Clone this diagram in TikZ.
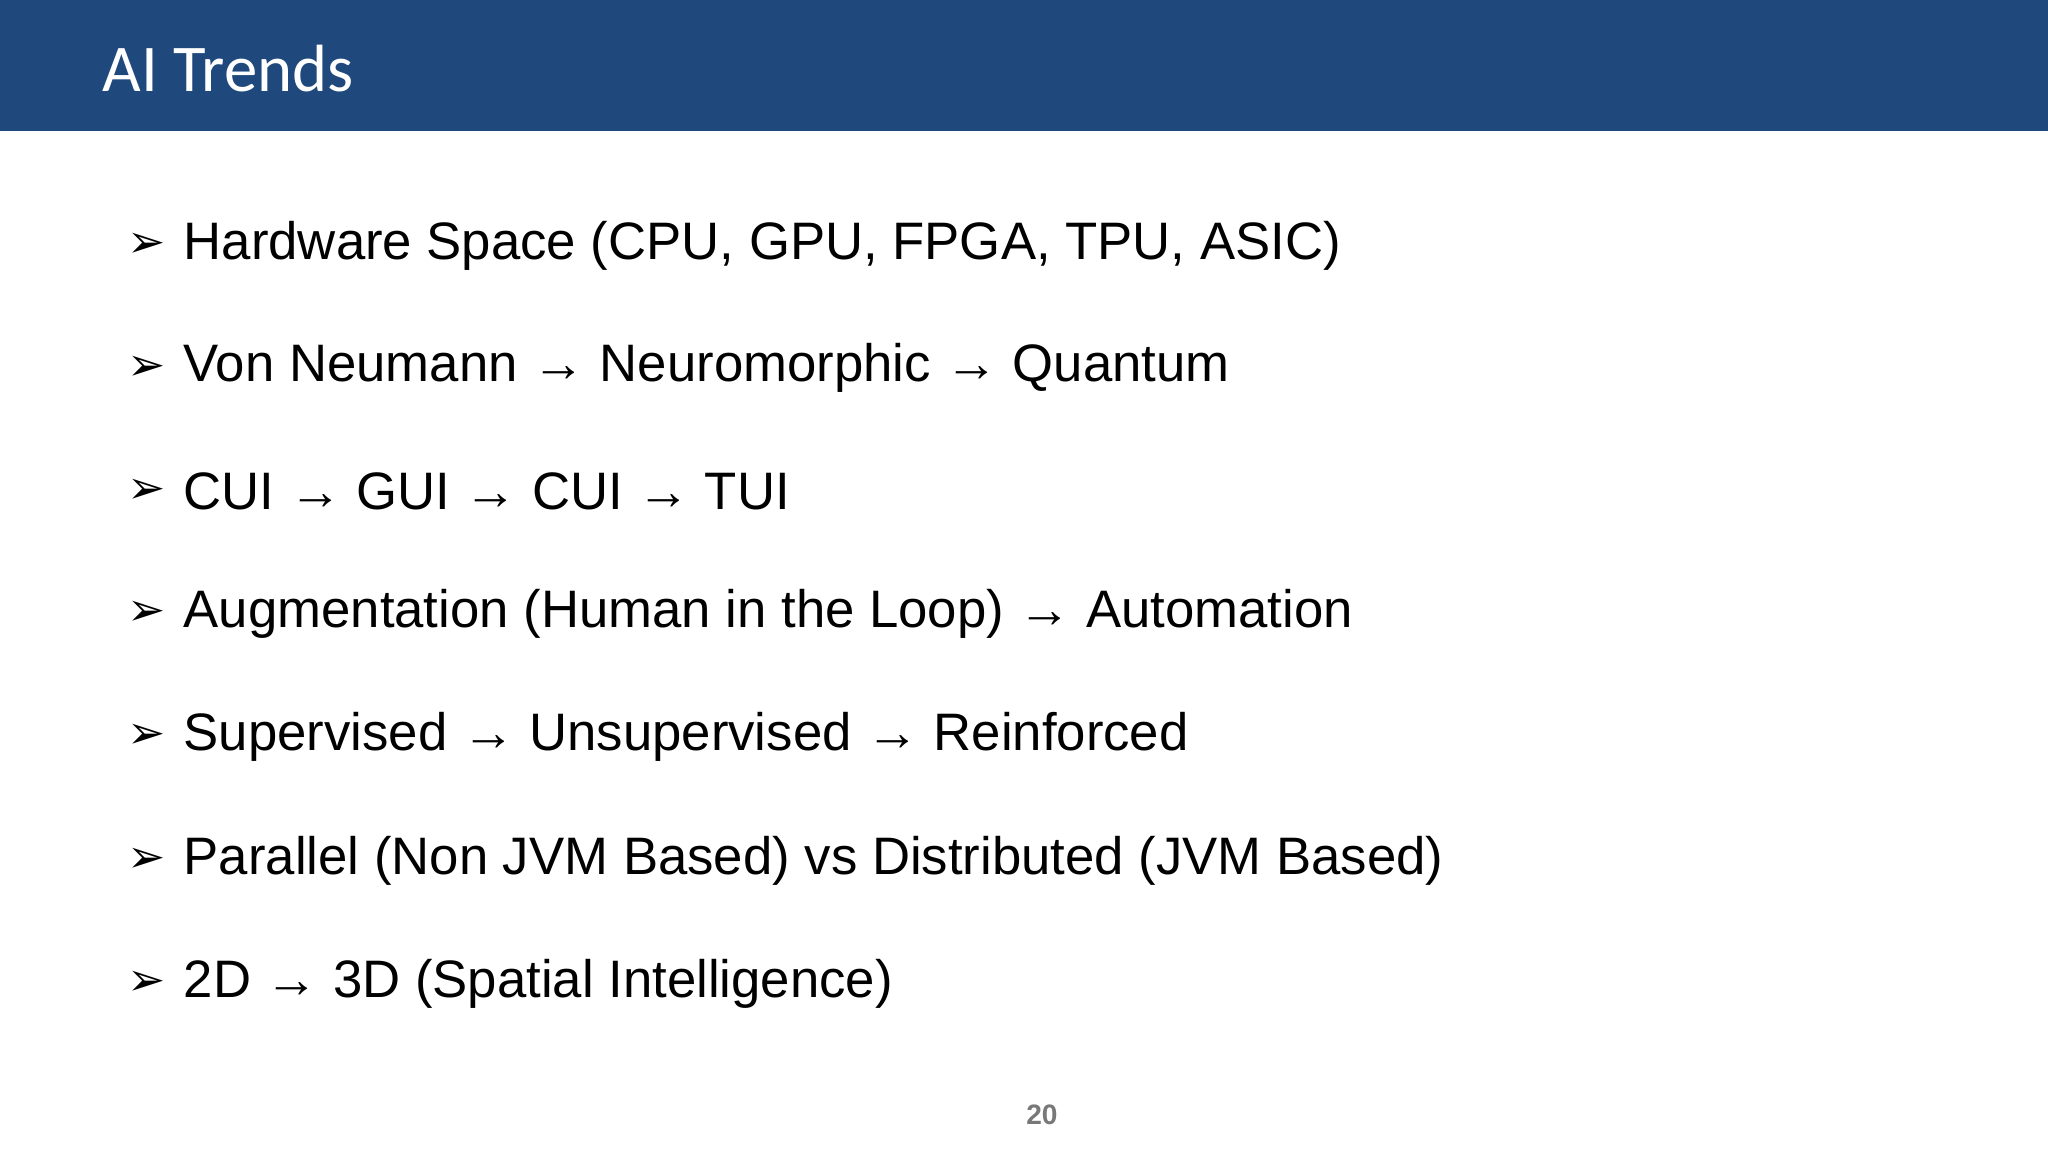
\documentclass[tikz,border=0pt]{standalone}
\usepackage{fontspec}
\setmainfont{Liberation Sans}
\newfontfamily\titlefont{Carlito}
\newfontfamily\symfont{DejaVu Sans}
\definecolor{hdr}{RGB}{31,73,125}
\definecolor{pg}{RGB}{120,120,120}
\tikzset{
 item/.style={anchor=west,inner sep=0pt,font=\fontsize{15}{18}\selectfont},
 bul/.style={anchor=west,inner sep=0pt,font=\symfont\fontsize{13}{16}\selectfont}
}
\begin{document}
\begin{tikzpicture}[x=1cm,y=-1cm]
\useasboundingbox (0,0) rectangle (20.48,11.52);
\fill[white] (0,0) rectangle (20.48,11.52);
\fill[hdr] (0,0) rectangle (20.48,1.31);
\node[anchor=west,inner sep=0pt,text=white,font=\titlefont\fontsize{19}{22}\selectfont] (title) at (1.02,0.69) {AI Trends};
\foreach \y/\t [count=\i] in {
 2.455/{Hardware Space (CPU, GPU, FPGA, TPU, ASIC)},
 3.683/{Von Neumann → Neuromorphic → Quantum},
 4.91/{CUI → GUI → CUI → TUI},
 6.138/{Augmentation (Human in the Loop) → Automation},
 7.366/{Supervised → Unsupervised → Reinforced},
 8.607/{Parallel (Non JVM Based) vs Distributed (JVM Based)},
 9.834/{2D → 3D (Spatial Intelligence)}}{
 \node[bul] (b\i) at (1.27,\y) {➢};
 \node[item] (t\i) at (1.83,\y) {\t};
}
\node[text=pg,font=\bfseries\fontsize{8}{10}\selectfont,inner sep=0pt] (page) at (10.42,11.15) {20};
\end{tikzpicture}
\end{document}
